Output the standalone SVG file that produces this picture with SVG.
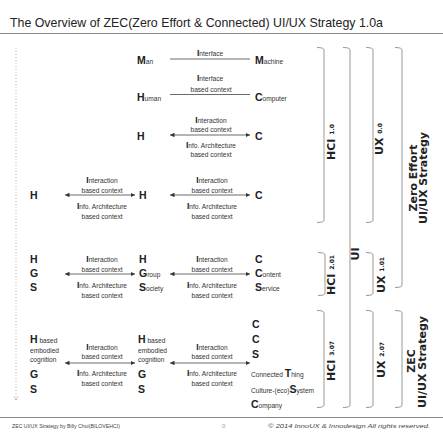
<svg xmlns="http://www.w3.org/2000/svg" width="443" height="443" viewBox="0 0 443 443">
<style>
text{font-family:"Liberation Sans",Arial,sans-serif;fill:#222}
.B{font-weight:bold;font-size:10.5px}
.s{font-weight:normal;font-size:6.6px;fill:#333}
.I{font-weight:bold;font-size:8.5px}
.lab{text-anchor:middle}
.R{font-family:"DejaVu Sans",Verdana,sans-serif;font-weight:bold;font-size:11px;text-anchor:middle}
.sub{font-size:6px}
.br{fill:none;stroke:#999;stroke-width:1}
.ln{stroke:#444;stroke-width:0.8}
.ar{stroke:#444;stroke-width:0.8;marker-start:url(#ah);marker-end:url(#ah)}
.rule{stroke:#888;stroke-width:1}
.ft{font-size:6px;fill:#444}
</style>
<defs>
<marker id="ah" viewBox="0 0 6 6" refX="6" refY="3" markerWidth="4.5" markerHeight="4.5" markerUnits="userSpaceOnUse" orient="auto-start-reverse"><path d="M0,0 L6,3 L0,6 z" fill="#333"/></marker>
<marker id="dn" viewBox="0 0 6 6" refX="3" refY="6" markerWidth="4" markerHeight="4" markerUnits="userSpaceOnUse" orient="0"><path d="M0,1 L3,6 L6,1" fill="none" stroke="#aaa"/></marker>
</defs>
<rect width="443" height="443" fill="#fff"/>
<g id="title">
<text x="10" y="27" font-size="13.5" textLength="373" lengthAdjust="spacingAndGlyphs">The Overview of ZEC(Zero Effort &amp; Connected) UI/UX Strategy 1.0a</text>
<line class="rule" x1="0" y1="33.5" x2="443" y2="33.5"/>
</g>
<g id="timeline">
<line x1="16" y1="48" x2="16" y2="400" stroke="#bbb" stroke-width="1" stroke-dasharray="1 2" marker-end="url(#dn)"/>
</g>
<g id="connectors">
<line class="ln" x1="170" y1="59" x2="250" y2="59"/>
<line class="ln" x1="170" y1="94.5" x2="250" y2="94.5"/>
<line class="ar" x1="170" y1="135" x2="250" y2="135"/>
<line class="ar" x1="65" y1="195" x2="135" y2="195"/>
<line class="ar" x1="170" y1="195" x2="250" y2="195"/>
<line class="ar" x1="65" y1="274" x2="135" y2="274"/>
<line class="ar" x1="170" y1="274" x2="250" y2="274"/>
<line class="ar" x1="65" y1="363" x2="135" y2="363"/>
<line class="ar" x1="170" y1="363" x2="250" y2="363"/>
</g>
<g id="row1">
<text x="137" y="64"><tspan class="B">M</tspan><tspan class="s">an</tspan></text>
<text class="lab" x="210" y="56"><tspan class="I">I</tspan><tspan class="s">nterface</tspan></text>
<text x="255" y="64"><tspan class="B">M</tspan><tspan class="s">achine</tspan></text>
</g>
<g id="row2">
<text x="137" y="101"><tspan class="B">H</tspan><tspan class="s">uman</tspan></text>
<text class="lab" x="210" y="81"><tspan class="I">I</tspan><tspan class="s">nterface</tspan></text>
<text class="lab s" x="211" y="92">based context</text>
<text x="255" y="101"><tspan class="B">C</tspan><tspan class="s">omputer</tspan></text>
</g>
<g id="row3">
<text class="B" x="137" y="140">H</text>
<text class="lab" x="211" y="123"><tspan class="I">I</tspan><tspan class="s">nteraction</tspan></text>
<text class="lab s" x="211" y="132">based context</text>
<text class="lab" x="211" y="148"><tspan class="I">I</tspan><tspan class="s">nfo. Architecture</tspan></text>
<text class="lab s" x="211" y="157">based context</text>
<text class="B" x="255" y="140">C</text>
</g>
<g id="row4">
<text class="B" x="30" y="199">H</text>
<text class="lab" x="102" y="183"><tspan class="I">I</tspan><tspan class="s">nteraction</tspan></text>
<text class="lab s" x="102" y="193">based context</text>
<text class="lab" x="102" y="209"><tspan class="I">I</tspan><tspan class="s">nfo. Architecture</tspan></text>
<text class="lab s" x="102" y="219">based context</text>
<text class="B" x="139" y="199">H</text>
<text class="lab" x="212" y="183"><tspan class="I">I</tspan><tspan class="s">nteraction</tspan></text>
<text class="lab s" x="212" y="193">based context</text>
<text class="lab" x="212" y="209"><tspan class="I">I</tspan><tspan class="s">nfo. Architecture</tspan></text>
<text class="lab s" x="212" y="219">based context</text>
<text class="B" x="255" y="199">C</text>
</g>
<g id="row5">
<text class="B" x="30" y="263">H</text>
<text class="B" x="30" y="277">G</text>
<text class="B" x="30" y="291">S</text>
<text class="lab" x="102" y="262"><tspan class="I">I</tspan><tspan class="s">nteraction</tspan></text>
<text class="lab s" x="102" y="272">based context</text>
<text class="lab" x="102" y="288"><tspan class="I">I</tspan><tspan class="s">nfo. Architecture</tspan></text>
<text class="lab s" x="102" y="298">based context</text>
<text class="B" x="139" y="263">H</text>
<text x="139" y="277"><tspan class="B">G</tspan><tspan class="s">roup</tspan></text>
<text x="139" y="291"><tspan class="B">S</tspan><tspan class="s">ociety</tspan></text>
<text class="lab" x="212" y="262"><tspan class="I">I</tspan><tspan class="s">nteraction</tspan></text>
<text class="lab s" x="212" y="272">based context</text>
<text class="lab" x="212" y="288"><tspan class="I">I</tspan><tspan class="s">nfo. Architecture</tspan></text>
<text class="lab s" x="212" y="298">based context</text>
<text class="B" x="255" y="263">C</text>
<text x="255" y="277"><tspan class="B">C</tspan><tspan class="s">ontent</tspan></text>
<text x="255" y="291"><tspan class="B">S</tspan><tspan class="s">ervice</tspan></text>
</g>
<g id="row6">
<text x="30" y="343"><tspan class="B">H</tspan><tspan class="s"> based</tspan></text>
<text class="s" x="30" y="353">embodied</text>
<text class="s" x="30" y="362">cognition</text>
<text class="B" x="30" y="378">G</text>
<text class="B" x="30" y="393">S</text>
<text class="lab" x="102" y="350"><tspan class="I">I</tspan><tspan class="s">nteraction</tspan></text>
<text class="lab s" x="102" y="359">based context</text>
<text class="lab" x="102" y="376"><tspan class="I">I</tspan><tspan class="s">nfo. Architecture</tspan></text>
<text class="lab s" x="102" y="386">based context</text>
<text x="138" y="343"><tspan class="B">H</tspan><tspan class="s"> based</tspan></text>
<text class="s" x="138" y="353">embodied</text>
<text class="s" x="138" y="362">cognition</text>
<text class="B" x="138" y="378">G</text>
<text class="B" x="138" y="393">S</text>
<text class="lab" x="212" y="350"><tspan class="I">I</tspan><tspan class="s">nteraction</tspan></text>
<text class="lab s" x="212" y="359">based context</text>
<text class="lab" x="212" y="376"><tspan class="I">I</tspan><tspan class="s">nfo. Architecture</tspan></text>
<text class="lab s" x="212" y="386">based context</text>
<text class="B" x="252" y="328">C</text>
<text class="B" x="252" y="343">C</text>
<text class="B" x="252" y="358">S</text>
<text x="251" y="377"><tspan class="s">Connected </tspan><tspan class="B">T</tspan><tspan class="s">hing</tspan></text>
<text x="251" y="393"><tspan class="s">Culture-(eco)</tspan><tspan class="B">S</tspan><tspan class="s">ystem</tspan></text>
<text x="251" y="408"><tspan class="B">C</tspan><tspan class="s">ompany</tspan></text>
</g>
<g id="brackets">
<path class="br" d="M317,47.5 Q324,47.5 324,50 V220 Q324,222.5 317,222.5"/>
<path class="br" d="M343,47.5 Q350,47.5 350,50 V405 Q350,407.5 343,407.5"/>
<path class="br" d="M366,47.5 Q373,47.5 373,50 V220 Q373,222.5 366,222.5"/>
<path class="br" d="M395,47.5 Q402,47.5 402,50 V285 Q402,287.5 395,287.5"/>
<path class="br" d="M318,252.5 Q325,252.5 325,255 V293 Q325,295.5 318,295.5"/>
<path class="br" d="M366,252.5 Q373,252.5 373,255 V293 Q373,295.5 366,295.5"/>
<path class="br" d="M317,310.5 Q324,310.5 324,313 V405 Q324,407.5 317,407.5"/>
<path class="br" d="M366,310.5 Q373,310.5 373,313 V405 Q373,407.5 366,407.5"/>
<path class="br" d="M395,310.5 Q402,310.5 402,313 V405 Q402,407.5 395,407.5"/>
</g>
<g id="labels">
<text class="R" transform="translate(335,142) rotate(-90)">HCI <tspan class="sub" dy="-1">1.0</tspan></text>
<text class="R" transform="translate(383,139) rotate(-90)">UX <tspan class="sub" dy="-1">0.0</tspan></text>
<text class="R" transform="translate(417,178) rotate(-90)">Zero Effort</text>
<text class="R" transform="translate(427,178) rotate(-90)">UI/UX Strategy</text>
<text class="R" transform="translate(359,254) rotate(-90)">UI</text>
<text class="R" transform="translate(335,275) rotate(-90)">HCI <tspan class="sub" dy="-1">2.01</tspan></text>
<text class="R" transform="translate(385,275) rotate(-90)">UX <tspan class="sub" dy="-1">1.01</tspan></text>
<text class="R" transform="translate(335,361) rotate(-90)">HCI <tspan class="sub" dy="-1">3.07</tspan></text>
<text class="R" transform="translate(385,360) rotate(-90)">UX <tspan class="sub" dy="-1">2.07</tspan></text>
<text class="R" transform="translate(415,361) rotate(-90)">ZEC</text>
<text class="R" transform="translate(426,362) rotate(-90)">UI/UX Strategy</text>
</g>
<g id="footer">
<line class="rule" x1="0" y1="417.5" x2="443" y2="417.5"/>
<text class="ft" x="12" y="428" textLength="108" lengthAdjust="spacingAndGlyphs">ZEC UI/UX Strategy by Billy Choi(BILOVEHCI)</text>
<text class="ft" x="222" y="428" style="fill:#999">0</text>
<text class="ft" x="430" y="428" text-anchor="end" font-style="italic" textLength="162" lengthAdjust="spacingAndGlyphs">© 2014 InnoUX &amp; Innodesign All rights reserved.</text>
</g>
</svg>
